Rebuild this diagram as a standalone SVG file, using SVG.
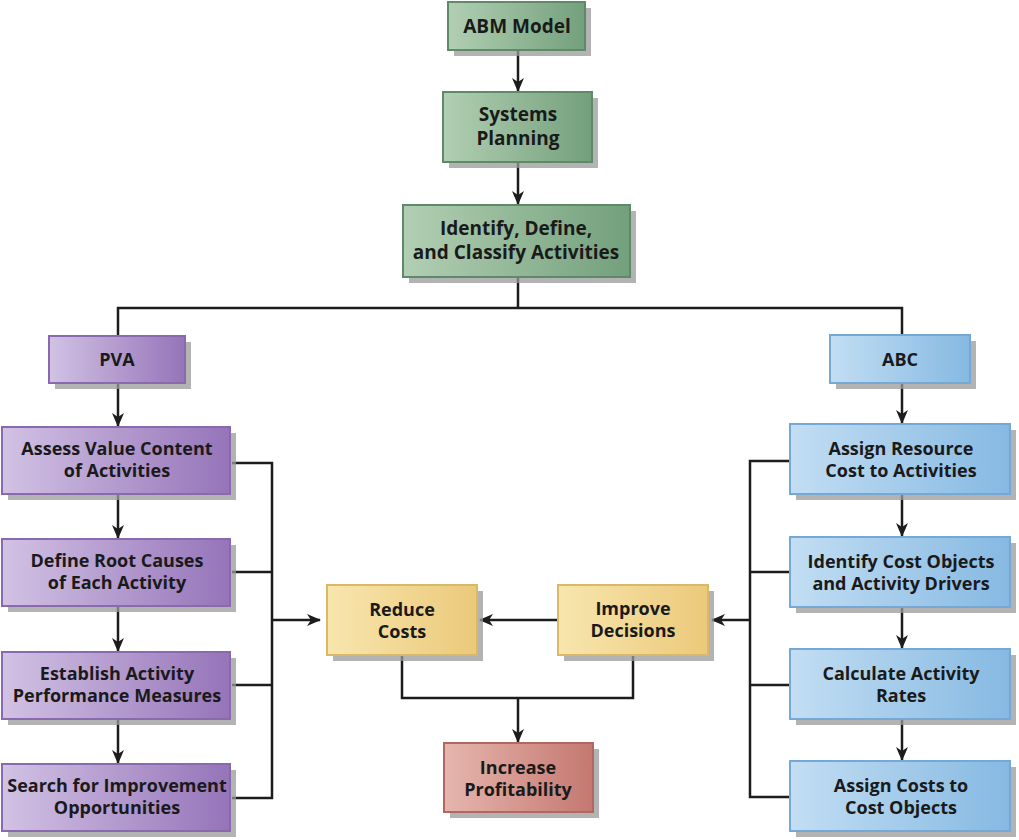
<svg xmlns="http://www.w3.org/2000/svg" width="1019" height="840" viewBox="0 0 1019 840">
<style>
  .shadow { fill: #9a9a9a; opacity: 0.75; }
  .lbl { font-family: "Open Sans", "Noto Sans", "Liberation Sans", sans-serif; font-weight: bold; font-size: 18px; fill: #1a1a1a; text-anchor: middle; }
  .big { font-size: 19px; }
  .green { fill: url(#gGreen); stroke: #5f8a69; stroke-width: 2; }
  .purple { fill: url(#gPurple); stroke: #8a6aae; stroke-width: 2; }
  .blue { fill: url(#gBlue); stroke: #74a9d6; stroke-width: 2; }
  .yellow { fill: url(#gYellow); stroke: #d9b868; stroke-width: 2; }
  .red { fill: url(#gRed); stroke: #b06860; stroke-width: 2; }
  .conn { fill: none; stroke: #1c1c1c; stroke-width: 2.5; }
  .arr { marker-end: url(#ah); }
</style>
<defs>
  <linearGradient id="gGreen" x1="0" y1="0" x2="1" y2="0">
    <stop offset="0" stop-color="#b2cfb3"/><stop offset="1" stop-color="#73a07c"/>
  </linearGradient>
  <linearGradient id="gPurple" x1="0" y1="0" x2="1" y2="0">
    <stop offset="0" stop-color="#d2c2e4"/><stop offset="1" stop-color="#9574b9"/>
  </linearGradient>
  <linearGradient id="gBlue" x1="0" y1="0" x2="1" y2="0">
    <stop offset="0" stop-color="#c2def3"/><stop offset="1" stop-color="#86b9e2"/>
  </linearGradient>
  <linearGradient id="gYellow" x1="0" y1="0" x2="1" y2="0">
    <stop offset="0" stop-color="#f8e6ae"/><stop offset="1" stop-color="#ebc97a"/>
  </linearGradient>
  <linearGradient id="gRed" x1="0" y1="0" x2="1" y2="0">
    <stop offset="0" stop-color="#e6b6ae"/><stop offset="1" stop-color="#c47870"/>
  </linearGradient>
  <marker id="ah" markerUnits="userSpaceOnUse" markerWidth="14" markerHeight="12" viewBox="0 0 14 12" refX="13" refY="6" orient="auto">
    <path d="M0,0 L14,6 L0,12 L4,6 Z" fill="#1c1c1c"/>
  </marker>
</defs>

<g id="connectors">
  <path class="conn arr" d="M518,50 V91"/>
  <path class="conn arr" d="M518,162 V204"/>
  <path class="conn" d="M518,277 V308"/>
  <path class="conn" d="M118,336 V308 H902 V335"/>
  <path class="conn arr" d="M118,383 V426"/>
  <path class="conn arr" d="M118,494 V538"/>
  <path class="conn arr" d="M118,606 V651"/>
  <path class="conn arr" d="M118,719 V763"/>
  <path class="conn arr" d="M902,383 V423"/>
  <path class="conn arr" d="M902,494 V536"/>
  <path class="conn arr" d="M902,607 V648"/>
  <path class="conn arr" d="M902,719 V760"/>
  <path class="conn" d="M232,463 H272 V798 H232"/>
  <path class="conn" d="M232,572 H272"/>
  <path class="conn" d="M232,685 H272"/>
  <path class="conn arr" d="M272,620 H320"/>
  <path class="conn" d="M789,461 H750 V797 H789"/>
  <path class="conn" d="M789,572 H750"/>
  <path class="conn" d="M789,685 H750"/>
  <path class="conn arr" d="M750,620 H712"/>
  <path class="conn arr" d="M558,620 H480"/>
  <path class="conn" d="M402,656 V698 H633 V656"/>
  <path class="conn arr" d="M518,698 V742"/>
</g>

<g id="abm">
  <rect class="shadow" x="454" y="8" width="137" height="48"/>
  <rect class="green" x="448" y="2" width="137" height="48"/>
  <text class="lbl big" x="517" y="33">ABM Model</text>
</g>
<g id="systems">
  <rect class="shadow" x="449" y="98" width="149" height="70"/>
  <rect class="green" x="443" y="92" width="149" height="70"/>
  <text class="lbl big" x="518" y="121"><tspan x="518">Systems</tspan><tspan x="518" dy="23.5">Planning</tspan></text>
</g>
<g id="identify">
  <rect class="shadow" x="409" y="211" width="227" height="72"/>
  <rect class="green" x="403" y="205" width="227" height="72"/>
  <text class="lbl big" x="516" y="235"><tspan x="516">Identify, Define,</tspan><tspan x="516" dy="23.5">and Classify Activities</tspan></text>
</g>

<g id="pva">
  <rect class="shadow" x="55" y="342" width="136" height="47"/>
  <rect class="purple" x="49" y="336" width="136" height="47"/>
  <text class="lbl" x="117" y="366">PVA</text>
</g>
<g id="assess">
  <rect class="shadow" x="8" y="433" width="228" height="67"/>
  <rect class="purple" x="2" y="427" width="228" height="67"/>
  <text class="lbl" x="117" y="455"><tspan x="117">Assess Value Content</tspan><tspan x="117" dy="22">of Activities</tspan></text>
</g>
<g id="define">
  <rect class="shadow" x="8" y="545" width="228" height="67"/>
  <rect class="purple" x="2" y="539" width="228" height="67"/>
  <text class="lbl" x="117" y="567"><tspan x="117">Define Root Causes</tspan><tspan x="117" dy="22">of Each Activity</tspan></text>
</g>
<g id="establish">
  <rect class="shadow" x="8" y="658" width="228" height="67"/>
  <rect class="purple" x="2" y="652" width="228" height="67"/>
  <text class="lbl" x="117" y="680"><tspan x="117">Establish Activity</tspan><tspan x="117" dy="22">Performance Measures</tspan></text>
</g>
<g id="search">
  <rect class="shadow" x="8" y="770" width="228" height="67"/>
  <rect class="purple" x="2" y="764" width="228" height="67"/>
  <text class="lbl" x="117" y="792"><tspan x="117">Search for Improvement</tspan><tspan x="117" dy="22">Opportunities</tspan></text>
</g>

<g id="abc">
  <rect class="shadow" x="836" y="341" width="140" height="48"/>
  <rect class="blue" x="830" y="335" width="140" height="48"/>
  <text class="lbl" x="900" y="366">ABC</text>
</g>
<g id="assign">
  <rect class="shadow" x="796" y="430" width="220" height="70"/>
  <rect class="blue" x="790" y="424" width="220" height="70"/>
  <text class="lbl" x="901" y="455"><tspan x="901">Assign Resource</tspan><tspan x="901" dy="22">Cost to Activities</tspan></text>
</g>
<g id="identifycost">
  <rect class="shadow" x="796" y="543" width="220" height="70"/>
  <rect class="blue" x="790" y="537" width="220" height="70"/>
  <text class="lbl" x="901" y="568"><tspan x="901">Identify Cost Objects</tspan><tspan x="901" dy="22">and Activity Drivers</tspan></text>
</g>
<g id="calculate">
  <rect class="shadow" x="796" y="655" width="220" height="70"/>
  <rect class="blue" x="790" y="649" width="220" height="70"/>
  <text class="lbl" x="901" y="680"><tspan x="901">Calculate Activity</tspan><tspan x="901" dy="22">Rates</tspan></text>
</g>
<g id="assigncosts">
  <rect class="shadow" x="796" y="767" width="220" height="70"/>
  <rect class="blue" x="790" y="761" width="220" height="70"/>
  <text class="lbl" x="901" y="792"><tspan x="901">Assign Costs to</tspan><tspan x="901" dy="22">Cost Objects</tspan></text>
</g>

<g id="reduce">
  <rect class="shadow" x="333" y="591" width="150" height="70"/>
  <rect class="yellow" x="327" y="585" width="150" height="70"/>
  <text class="lbl" x="402" y="616"><tspan x="402">Reduce</tspan><tspan x="402" dy="22">Costs</tspan></text>
</g>
<g id="improve">
  <rect class="shadow" x="564" y="591" width="150" height="70"/>
  <rect class="yellow" x="558" y="585" width="150" height="70"/>
  <text class="lbl" x="633" y="615"><tspan x="633">Improve</tspan><tspan x="633" dy="22">Decisions</tspan></text>
</g>
<g id="increase">
  <rect class="shadow" x="450" y="749" width="149" height="69"/>
  <rect class="red" x="444" y="743" width="149" height="69"/>
  <text class="lbl" x="518" y="774"><tspan x="518">Increase</tspan><tspan x="518" dy="22">Profitability</tspan></text>
</g>
</svg>
